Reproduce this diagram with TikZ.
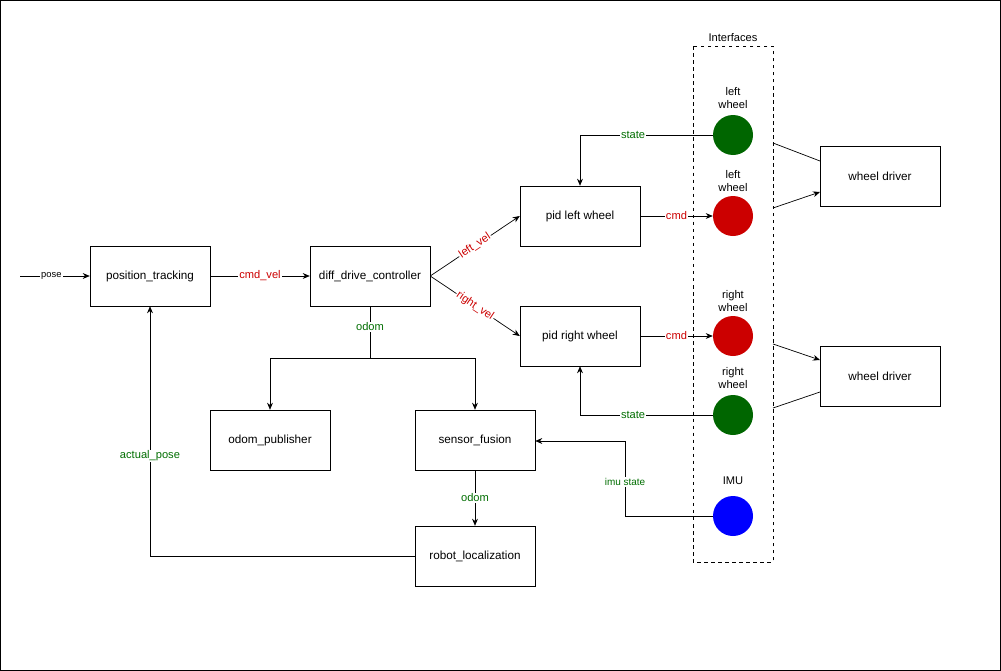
\documentclass[tikz,border=0pt]{standalone}
\usepackage{fontspec}
\setmainfont{Liberation Sans}
\usetikzlibrary{arrows.meta}
\definecolor{cgreen}{RGB}{0,102,0}
\definecolor{cred}{RGB}{204,0,0}
\definecolor{lgreen}{RGB}{0,110,0}
\definecolor{lred}{RGB}{204,0,0}
\begin{document}
\begin{tikzpicture}[x=0.03cm,y=-0.03cm,
    box/.style={draw,minimum width=3.6cm,minimum height=1.8cm,font=\fontsize{10}{12}\selectfont},
    dot/.style={circle,minimum size=1.2cm,inner sep=0pt},
    arr/.style={-{Stealth[length=6pt,width=5pt]},line width=0.6pt},
    ln/.style={line width=0.6pt},
    lab/.style={fill=white,inner sep=1pt,font=\fontsize{9.5}{11}\selectfont},
    txt/.style={align=center,font=\fontsize{9.5}{11.5}\selectfont}]
  \useasboundingbox (0,0) rectangle (1001,671);
  \draw[ln] (0.5,0.5) rectangle (1000.5,670.5);

  \node[box] (pt) at (150,276) {position\_tracking};
  \node[box] (ddc) at (370,276) {diff\_drive\_controller};
  \node[box] (pl) at (580,216) {pid left wheel};
  \node[box] (pr) at (580,336) {pid right wheel};
  \node[box] (op) at (270,440) {odom\_publisher};
  \node[box] (sf) at (475,440) {sensor\_fusion};
  \node[box] (rl) at (475,556) {robot\_localization};
  \node[box] (wd1) at (880,176) {wheel driver};
  \node[box] (wd2) at (880,376) {wheel driver};

  \draw[ln,dashed] (693,46) rectangle (773,562);
  \node[txt] (itf) at (733,38) {Interfaces};

  \node[dot,fill=cgreen] (lws) at (733,135) {};
  \node[dot,fill=cred] (lwc) at (733,216) {};
  \node[dot,fill=cred] (rwc) at (733,336) {};
  \node[dot,fill=cgreen] (rws) at (733,415) {};
  \node[dot,fill=blue] (imu) at (733,516) {};
  \node[txt] (t1) at (733,98) {left\\wheel};
  \node[txt] (t2) at (733,181) {left\\wheel};
  \node[txt] (t3) at (733,301) {right\\wheel};
  \node[txt] (t4) at (733,378) {right\\wheel};
  \node[txt] (t5) at (733,481) {IMU};

  \coordinate (ps) at (20,276);
  \draw[arr] (ps) -- (pt) node[lab,pos=0.45,font=\fontsize{8}{9}\selectfont] {pose};
  \draw[arr] (pt) -- (ddc) node[lab,midway,text=lred] {cmd\_vel};
  \draw[arr] (ddc.east) -- (pl.west) node[lab,midway,sloped,text=lred] {left\_vel};
  \draw[arr] (ddc.east) -- (pr.west) node[lab,midway,sloped,text=lred] {right\_vel};

  \coordinate (oj) at (370,358);
  \draw[ln] (ddc.south) -- (oj) node[lab,pos=0.4,text=lgreen] {odom};
  \draw[arr] (oj) -| (op.north);
  \draw[arr] (oj) -| (sf.north);
  \draw[arr] (sf) -- (rl) node[lab,midway,text=lgreen] {odom};
  \draw[arr] (rl.west) -| (pt.south) node[lab,pos=0.7,text=lgreen] {actual\_pose};

  \draw[arr] (lws.west) -| (pl.north) node[lab,pos=0.3,text=lgreen] {state};
  \draw[arr] (rws.west) -| (pr.south) node[lab,pos=0.3,text=lgreen] {state};
  \draw[arr] (pl) -- (lwc) node[lab,midway,text=lred] {cmd};
  \draw[arr] (pr) -- (rwc) node[lab,midway,text=lred] {cmd};
  \coordinate (i1) at (625,516);
  \coordinate (i2) at (625,441);
  \draw[arr] (imu.west) -- (i1) -- (i2) node[lab,pos=0.45,text=lgreen,font=\fontsize{8.5}{10}\selectfont] {imu state} -- (sf.east |- i2);

  \coordinate (a1) at (773,143);
  \coordinate (a2) at (773,208);
  \coordinate (a3) at (773,344);
  \coordinate (a4) at (773,408);
  \draw[ln] (a1) -- (820,161);
  \draw[arr] (a2) -- (820,192);
  \draw[arr] (a3) -- (820,360);
  \draw[ln] (a4) -- (820,392);
\end{tikzpicture}
\end{document}
